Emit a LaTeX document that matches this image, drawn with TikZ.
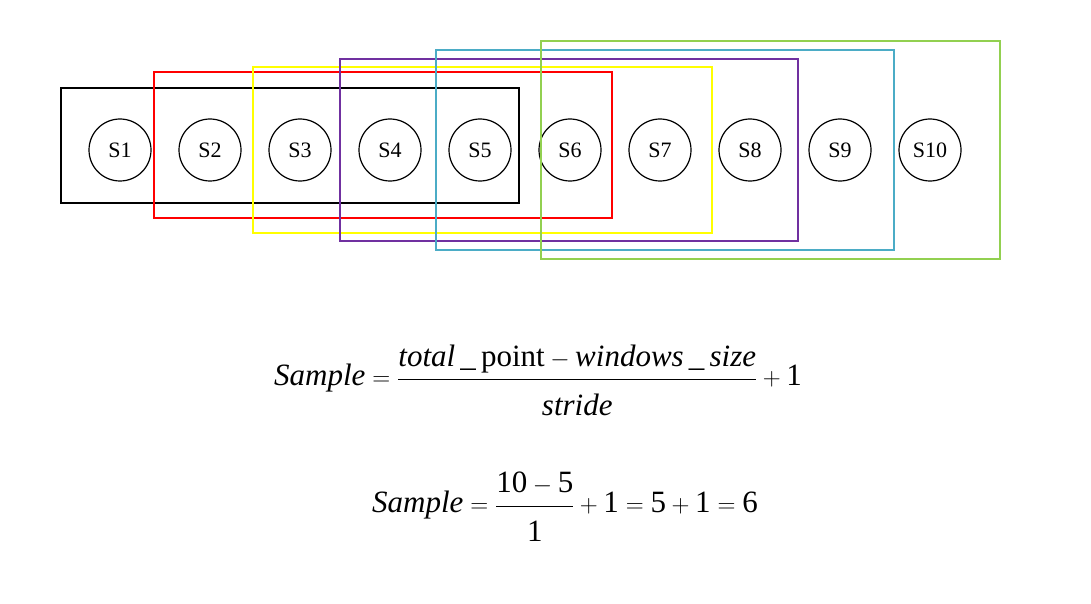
\documentclass[tikz,border=0pt]{standalone}
\usepackage{amsmath}
\usepackage{fontspec}
\setmainfont{Liberation Serif}
\definecolor{wy}{HTML}{FFFF00}
\definecolor{wp}{HTML}{7030A0}
\definecolor{wc}{HTML}{4BACC6}
\definecolor{wg}{HTML}{92D050}
\begin{document}
\begin{tikzpicture}[x=1pt,y=-1pt,
  st/.style={circle,draw,line width=1.2pt,minimum size=62pt,inner sep=0pt,font=\fontsize{22}{26}\selectfont},
  win/.style={line width=1.6pt}]
\useasboundingbox (0,0) rectangle (1091,604);
\foreach \i in {1,...,10}{
  \node[st] (s\i) at ({30+90*\i},150) {S\i};
}
\draw[win,black] (61,88) rectangle (519,203);
\draw[win,red] (154,72) rectangle (612,218);
\draw[win,wy] (253,67) rectangle (712,233);
\draw[win,wp] (340,59) rectangle (798,241);
\draw[win,wc] (436,50) rectangle (894,250);
\draw[win,wg] (541,41) rectangle (1000,259);
\node[font=\fontsize{31}{38}\selectfont] (f1) at (538,380)
  {\(\mbox{\itshape Sample}=\dfrac{\rule[-10pt]{0pt}{30pt}\mbox{\itshape total\,\_\,}\mbox{point}-\mbox{\itshape windows\,\_\,size}}{\rule{0pt}{32pt}\mbox{\itshape stride}}+\mbox{1}\)};
\node[font=\fontsize{31}{38}\selectfont] (f2) at (565,507)
  {\(\mbox{\itshape Sample}=\dfrac{\rule[-10pt]{0pt}{30pt}\mbox{10}-\mbox{5}}{\rule{0pt}{32pt}\mbox{1}}+\mbox{1}=\mbox{5}+\mbox{1}=\mbox{6}\)};
\end{tikzpicture}
\end{document}
